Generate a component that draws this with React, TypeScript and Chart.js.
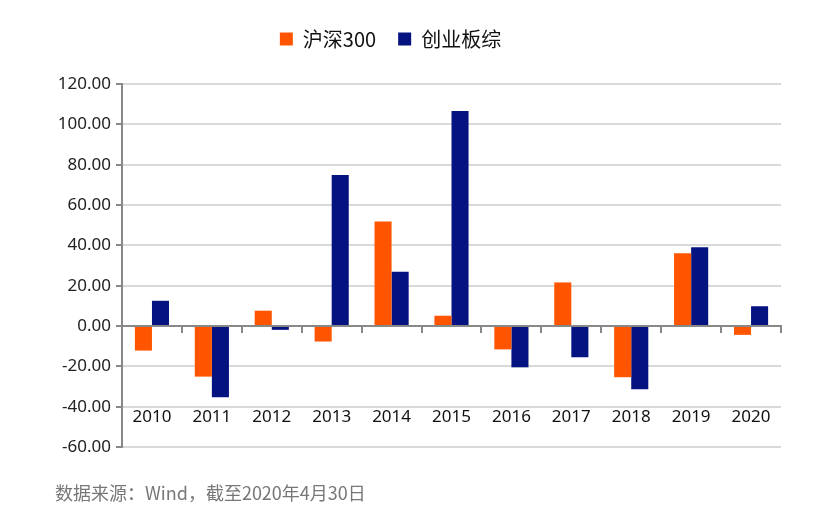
import React, { useEffect, useRef } from "react";
import { Chart, registerables } from "chart.js";

Chart.register(...registerables);

const categories = ["2010", "2011", "2012", "2013", "2014", "2015", "2016", "2017", "2018", "2019", "2020"];
const hs300 = [-12.2, -25.1, 7.6, -7.7, 51.8, 5.1, -11.6, 21.6, -25.4, 36.1, -4.4];
const cybz = [12.5, -35.3, -1.9, 74.9, 26.9, 106.6, -20.5, -15.5, -31.4, 39.1, 9.8];
const seriesNames = ["沪深300", "创业板综"];
const yMin = -60;
const yMax = 120;
const yStep = 20;
const sourceNote = "数据来源：Wind，截至2020年4月30日";

export default function App() {
  const canvasRef = useRef<HTMLCanvasElement | null>(null);

  useEffect(() => {
    if (!canvasRef.current) return;
    const chart = new Chart(canvasRef.current, {
      type: "bar",
      data: {
        labels: categories,
        datasets: [
          {
            label: seriesNames[0],
            data: hs300,
            backgroundColor: "#FF5500",
            xAxisID: "x",
            yAxisID: "y",
            categoryPercentage: 0.57,
            barPercentage: 1.0,
          },
          {
            label: seriesNames[1],
            data: cybz,
            backgroundColor: "#04137F",
            xAxisID: "x",
            yAxisID: "y",
            categoryPercentage: 0.57,
            barPercentage: 1.0,
          },
        ],
      },
      options: {
        animation: false,
        responsive: true,
        maintainAspectRatio: false,
        layout: { padding: { left: 0, right: 52, top: 7, bottom: 73 } },
        plugins: {
          legend: {
            position: "top",
            labels: {
              boxWidth: 13,
              boxHeight: 13,
              padding: 22,
              color: "#111",
              font: { family: "'Noto Sans CJK SC', 'Noto Sans', sans-serif", size: 20 },
            },
          },
          tooltip: { enabled: false },
        },
        scales: {
          y: {
            type: "linear",
            position: "left",
            min: yMin,
            max: yMax,
            afterFit: (s: any) => {
              s.width = 122;
            },
            ticks: {
              stepSize: yStep,
              padding: 5,
              color: "#222",
              font: { family: "'Noto Sans', sans-serif", size: 17 },
              callback: (v: any) => Number(v).toFixed(2),
            },
            grid: {
              color: (ctx: any) => (ctx.tick && ctx.tick.value === 0 ? "rgba(0,0,0,0)" : "#d9d9d9"),
              lineWidth: 2,
              tickLength: 6,
              tickColor: "#888",
              tickWidth: 2,
            },
            border: { color: "#888", width: 2 },
          },
          x: {
            type: "category",
            axis: "x",
            position: { y: 0 } as any,
            offset: true,
            ticks: { display: false },
            grid: {
              offset: true,
              drawOnChartArea: false,
              tickLength: 6,
              color: "#888",
              lineWidth: 2,
            },
            border: { color: "#888", width: 2 },
          },
          xl: {
            type: "category",
            axis: "x",
            position: { y: -40 } as any,
            offset: true,
            grid: { display: false, drawTicks: false },
            border: { display: false },
            ticks: {
              padding: 0,
              color: "#111",
              font: { family: "'Noto Sans', sans-serif", size: 17 },
            },
          },
          xTop: {
            type: "category",
            axis: "x",
            position: "top",
            grid: { display: false, drawTicks: false },
            border: { display: false },
            ticks: { display: false },
            afterFit: (s: any) => {
              s.height = 25;
            },
          },
        },
      },
    });
    return () => chart.destroy();
  }, []);

  return (
    <div style={{ position: "fixed", left: 0, top: 0, width: 833, height: 520, background: "#fff" }}>
      <canvas ref={canvasRef} />
      <div
        style={{
          position: "absolute",
          left: 55,
          top: 479,
          fontFamily: "'Noto Sans CJK SC', sans-serif",
          fontSize: 18,
          color: "#777",
          whiteSpace: "nowrap",
        }}
      >
        {sourceNote}
      </div>
    </div>
  );
}
